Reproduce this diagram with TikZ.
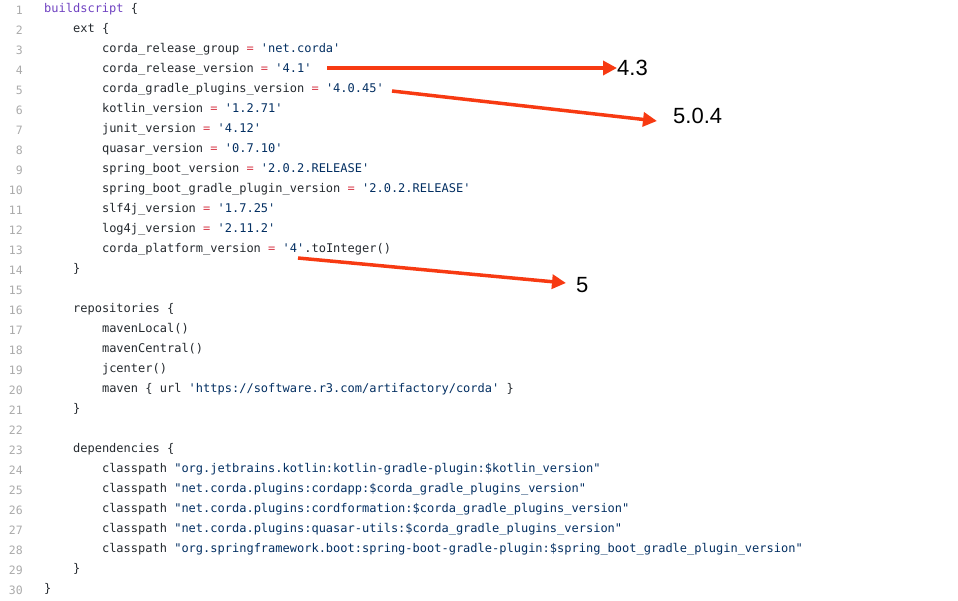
\documentclass[tikz,border=0pt]{standalone}
\usepackage{fontspec}
\setmonofont{DejaVu Sans Mono}
\setsansfont{Liberation Sans}
\usetikzlibrary{arrows.meta}
\definecolor{kw}{HTML}{6F42C1}
\definecolor{st}{HTML}{032F62}
\definecolor{op}{HTML}{D73A49}
\definecolor{ln}{HTML}{AAAAAA}
\definecolor{tx}{HTML}{24292E}
\definecolor{arr}{HTML}{F73A12}
\newcommand{\q}[1]{\textcolor{st}{#1}}
\newcommand{\e}{\textcolor{op}{=}}
\begin{document}
\begin{tikzpicture}[x=1pt,y=-1pt,
  num/.style={anchor=east,font=\ttfamily\fontsize{11.5}{12}\selectfont,text=ln,inner sep=0},
  code/.style={anchor=west,font=\ttfamily\fontsize{12}{12}\selectfont,text=tx,inner sep=0},
  red/.style={draw=arr,line width=3.5pt,-{Triangle[length=14pt,width=14pt]}},
  lbl/.style={anchor=west,font=\sffamily\fontsize{22}{24}\selectfont,inner sep=0}]
\useasboundingbox (0,0) rectangle (958,600);
\foreach \n in {1,...,30} \node[num] at (23,{10+20*(\n-1)}) {\n};
\def\L#1#2#3{\node[code] (c#1) at ({44+7.23*#2},{10+20*(#1-1)}) {\strut #3};}
\L{1}{0}{\textcolor{kw}{buildscript} \{}
\L{2}{4}{ext \{}
\L{3}{8}{corda\_release\_group \e{} \q{'net.corda'}}
\L{4}{8}{corda\_release\_version \e{} \q{'4.1'}}
\L{5}{8}{corda\_gradle\_plugins\_version \e{} \q{'4.0.45'}}
\L{6}{8}{kotlin\_version \e{} \q{'1.2.71'}}
\L{7}{8}{junit\_version \e{} \q{'4.12'}}
\L{8}{8}{quasar\_version \e{} \q{'0.7.10'}}
\L{9}{8}{spring\_boot\_version \e{} \q{'2.0.2.RELEASE'}}
\L{10}{8}{spring\_boot\_gradle\_plugin\_version \e{} \q{'2.0.2.RELEASE'}}
\L{11}{8}{slf4j\_version \e{} \q{'1.7.25'}}
\L{12}{8}{log4j\_version \e{} \q{'2.11.2'}}
\L{13}{8}{corda\_platform\_version \e{} \q{'4'}.toInteger()}
\L{14}{4}{\}}
\L{16}{4}{repositories \{}
\L{17}{8}{mavenLocal()}
\L{18}{8}{mavenCentral()}
\L{19}{8}{jcenter()}
\L{20}{8}{maven \{ url \q{'https://software.r3.com/artifactory/corda'} \}}
\L{21}{4}{\}}
\L{23}{4}{dependencies \{}
\L{24}{8}{classpath \q{"org.jetbrains.kotlin:kotlin-gradle-plugin:\$kotlin\_version"}}
\L{25}{8}{classpath \q{"net.corda.plugins:cordapp:\$corda\_gradle\_plugins\_version"}}
\L{26}{8}{classpath \q{"net.corda.plugins:cordformation:\$corda\_gradle\_plugins\_version"}}
\L{27}{8}{classpath \q{"net.corda.plugins:quasar-utils:\$corda\_gradle\_plugins\_version"}}
\L{28}{8}{classpath \q{"org.springframework.boot:spring-boot-gradle-plugin:\$spring\_boot\_gradle\_plugin\_version"}}
\L{29}{4}{\}}
\L{30}{0}{\}}
\node[lbl] (v1) at (617,68) {4.3};
\node[lbl] (v2) at (673,116) {5.0.4};
\node[lbl] (v3) at (576,285) {5};
\coordinate (s1) at (327,68);
\coordinate (s2) at (392,91);
\coordinate (s3) at (298,258);
\draw[red] (s1) -- (v1.west);
\draw[red] (s2) -- ([xshift=-16pt,yshift=-5pt]v2.west);
\draw[red] (s3) -- ([xshift=-10pt,yshift=2pt]v3.west);
\end{tikzpicture}
\end{document}
